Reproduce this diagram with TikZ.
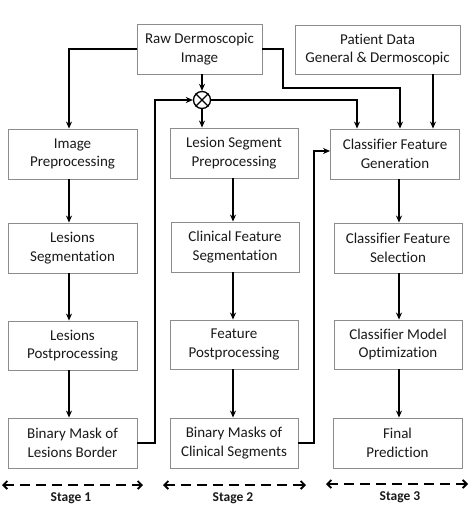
\documentclass[tikz,border=0pt]{standalone}
\usepackage{fontspec}
\setmainfont{Carlito}[Ligatures={NoCommon}]
\usetikzlibrary{arrows.meta,calc}
\begin{document}
\begin{tikzpicture}[x=1pt,y=-1pt,
  box/.style={draw=black!45,line width=0.9pt,rectangle,align=center,inner sep=0pt,
    font=\fontsize{15}{18.5}\selectfont,text=black!90},
  conn/.style={line width=1.3pt,-{Stealth[length=7pt,width=6pt]}},
  stagearrow/.style={line width=1.8pt,dash pattern=on 10pt off 6pt,{Straight Barb[length=4pt,width=8pt]}-{Straight Barb[length=4pt,width=8pt]}},
  stagelabel/.style={font=\fontsize{13.5}{15}\selectfont\bfseries,text=black!90}]
\useasboundingbox (0,0) rectangle (474,524);
% boxes
\node[box,minimum width=125pt,minimum height=50pt] (raw) at (199.5,49) {Raw Dermoscopic\\Image};
\node[box,minimum width=165pt,minimum height=49pt] (pat) at (377.5,49.5) {Patient Data\\General \& Dermoscopic};
\node[box,minimum width=129pt,minimum height=50pt] (ip) at (72.5,154) {Image\\Preprocessing};
\node[box,minimum width=128pt,minimum height=50pt] (lsp) at (234,153) {Lesion Segment\\Preprocessing};
\node[box,minimum width=129pt,minimum height=50pt] (cfg) at (395,154) {Classifier Feature\\Generation};
\node[box,minimum width=129pt,minimum height=50pt] (ls) at (72.5,248) {Lesions\\Segmentation};
\node[box,minimum width=128pt,minimum height=50pt] (cfs) at (235,247) {Clinical Feature\\Segmentation};
\node[box,minimum width=128pt,minimum height=50pt] (csel) at (398,248) {Classifier Feature\\Selection};
\node[box,minimum width=129pt,minimum height=49pt] (lpp) at (72.5,345.5) {Lesions\\Postprocessing};
\node[box,minimum width=128pt,minimum height=49pt] (fpp) at (234,344.5) {Feature\\Postprocessing};
\node[box,minimum width=128pt,minimum height=49pt] (cmo) at (398,344.5) {Classifier Model\\Optimization};
\node[box,minimum width=129pt,minimum height=50pt] (bml) at (72.5,443) {Binary Mask of\\Lesions Border};
\node[box,minimum width=128pt,minimum height=50pt] (bmc) at (234,443) {Binary Masks of\\Clinical Segments};
\node[box,minimum width=129pt,minimum height=50pt] (fp) at (397.5,443) {Final\\Prediction};
% multiplier
\node[draw,circle,line width=1.3pt,minimum size=17pt,inner sep=0pt] (mul) at (202,100) {};
\draw[line width=1.3pt] (mul.north west) -- (mul.south east) (mul.north east) -- (mul.south west);
% helper coordinates
\coordinate (c1) at (69,0);
\coordinate (c2) at (233,0);
\coordinate (c3) at (399,0);
% column 1
\draw[conn] (raw.west) -| (ip.north -| c1);
\draw[conn] (ip.south -| c1) -- (ls.north -| c1);
\draw[conn] (ls.south -| c1) -- (lpp.north -| c1);
\draw[conn] (lpp.south -| c1) -- (bml.north -| c1);
% column 2
\draw[conn] (raw.south -| mul) -- (mul.north);
\draw[conn] (mul.south) -- (lsp.north -| mul);
\draw[conn] (lsp.south -| c2) -- (cfs.north -| c2);
\draw[conn] (cfs.south -| c2) -- (fpp.north -| c2);
\draw[conn] (fpp.south -| c2) -- (bmc.north -| c2);
% column 3
\draw[conn] (raw.east) -- (283,49) -- (283,88) -| (cfg.north -| 400,0);
\draw[conn] (mul.east) -| (cfg.north -| 357,0);
\draw[conn] (pat.south -| 433,0) -- (cfg.north -| 433,0);
\draw[conn] (cfg.south -| c3) -- (csel.north -| c3);
\draw[conn] (csel.south -| c3) -- (cmo.north -| c3);
\draw[conn] (cmo.south -| c3) -- (fp.north -| c3);
% feedback lines
\draw[conn] (bml.east) -- (155,443) |- (mul.west);
\draw[conn] (bmc.east) -- (314,443) |- (cfg.west |- 0,151);
% stages
\coordinate (s1a) at (2,485); \coordinate (s1b) at (143,485);
\coordinate (s2a) at (163,485); \coordinate (s2b) at (306,485);
\coordinate (s3a) at (326,484); \coordinate (s3b) at (468,484);
\draw[stagearrow] (s1a) -- (s1b);
\draw[stagearrow] (s2a) -- (s2b);
\draw[stagearrow] (s3a) -- (s3b);
\node[stagelabel] (st1) at (71,498) {Stage 1};
\node[stagelabel] (st2) at (233,498) {Stage 2};
\node[stagelabel] (st3) at (400,497) {Stage 3};
\end{tikzpicture}
\end{document}
